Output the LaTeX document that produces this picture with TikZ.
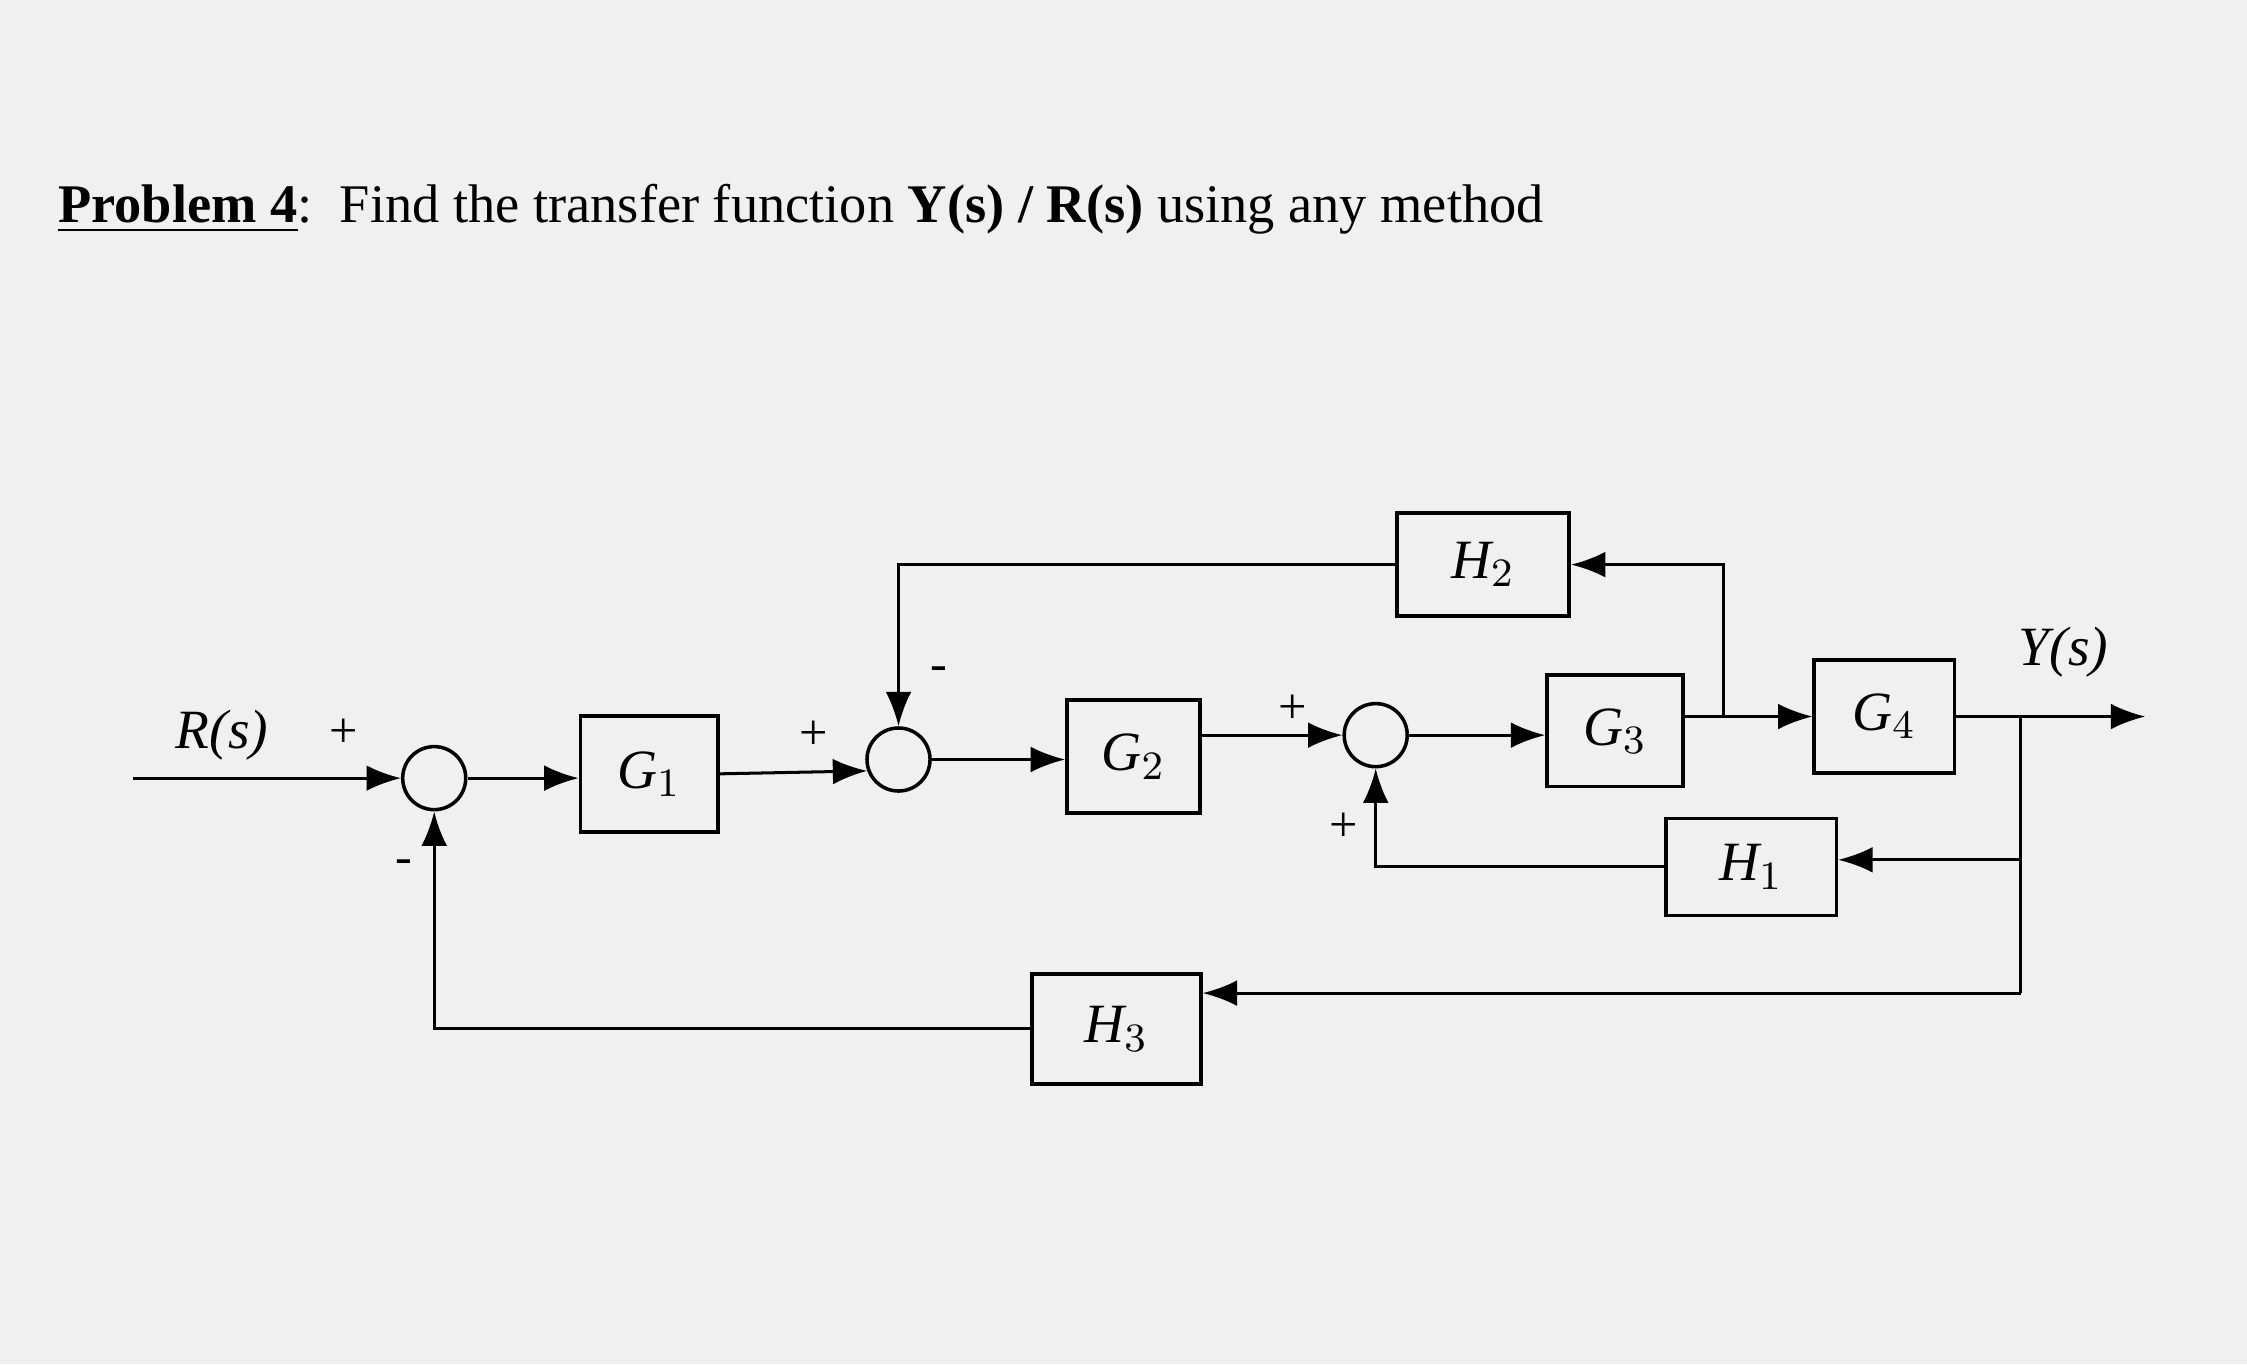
\documentclass[tikz,border=0pt]{standalone}
\usepackage{fontspec}
\setmainfont{Liberation Serif}
\usetikzlibrary{arrows.meta}
\begin{document}
\begin{tikzpicture}[x=0.1mm,y=-0.1mm,
  blk/.style={draw,line width=0.7pt,inner sep=0pt,font=\fontsize{11}{13}\selectfont\itshape},
  sumj/.style={draw,circle,line width=0.7pt,minimum size=4.4mm,inner sep=0pt},
  sig/.style={font=\fontsize{10}{12}\selectfont},
  ln/.style={line width=0.6pt},
  arr/.style={ln,-{Latex[length=2.4mm,width=1.8mm]}}]
\fill[gray!12] (0,0) rectangle (1568,952);
\useasboundingbox (0,0) rectangle (1568,952);
\node[anchor=base west,inner sep=0pt,font=\fontsize{10.8}{13}\selectfont] (title) at (40,155) {\underline{\textbf{Problem 4}}:\ \ Find the transfer function \textbf{Y(s) / R(s)} using any method};
\node[sumj] (s1) at (303,543) {};
\node[sumj] (s2) at (627,530) {};
\node[sumj] (s3) at (960,513) {};
\node[blk,minimum width=9.6mm,minimum height=8.1mm] (g1) at (453,540) {G$_1$};
\node[blk,minimum width=9.3mm,minimum height=7.9mm] (g2) at (791,528) {G$_2$};
\node[blk,minimum width=9.5mm,minimum height=7.8mm] (g3) at (1127,510) {G$_3$};
\node[blk,minimum width=9.8mm,minimum height=7.9mm] (g4) at (1315,500) {G$_4$};
\node[blk,minimum width=12mm,minimum height=7.2mm] (h2) at (1035,394) {H$_2$};
\node[blk,minimum width=11.9mm,minimum height=6.8mm] (h1) at (1222,605) {H$_1$};
\node[blk,minimum width=11.8mm,minimum height=7.7mm] (h3) at (779,718) {H$_3$};
\node[font=\fontsize{11}{13}\selectfont\itshape] (rs) at (155,513) {R(s)};
\node[font=\fontsize{11}{13}\selectfont\itshape] (ys) at (1440,455) {Y(s)};
\coordinate (in) at (93,543);
\coordinate (out) at (1497,500);
\coordinate (b1) at (1410,500);
\coordinate (b2) at (1410,600);
\coordinate (b3) at (1410,693);
\coordinate (b4) at (1203,500);
\draw[arr] (in) -- (s1);
\draw[arr] (s1) -- (s1 -| g1.west);
\draw[arr] (g1.east |- 0,540) -- (s2.200);
\draw[arr] (s2) -- (g2.west |- s2);
\draw[arr] (g2.east |- s3) -- (s3);
\draw[arr] (s3) -- (g3.west |- s3);
\draw[arr] (g3.east |- g4) -- (g4);
\draw[arr] (g4) -- (out);
\draw[arr] (b4) |- (h2.east);
\draw[arr] (h2.west) -| (s2.north);
\draw[ln] (b1) -- (b3);
\draw[arr] (b2) -- (h1.east |- b2);
\draw[arr] (h1.west) -| (s3.south);
\draw[arr] (b3) -- (h3.east |- b3);
\draw[arr] (h3.west) -| (s1.south);
\node[sig] (p1) at (240,512) {+};
\node[sig] (m1) at (282,605) {-};
\node[sig] (p2) at (568,513) {+};
\node[sig] (m2) at (655,470) {-};
\node[sig] (p3) at (902,495) {+};
\node[sig] (p4) at (938,577) {+};
\end{tikzpicture}
\end{document}
